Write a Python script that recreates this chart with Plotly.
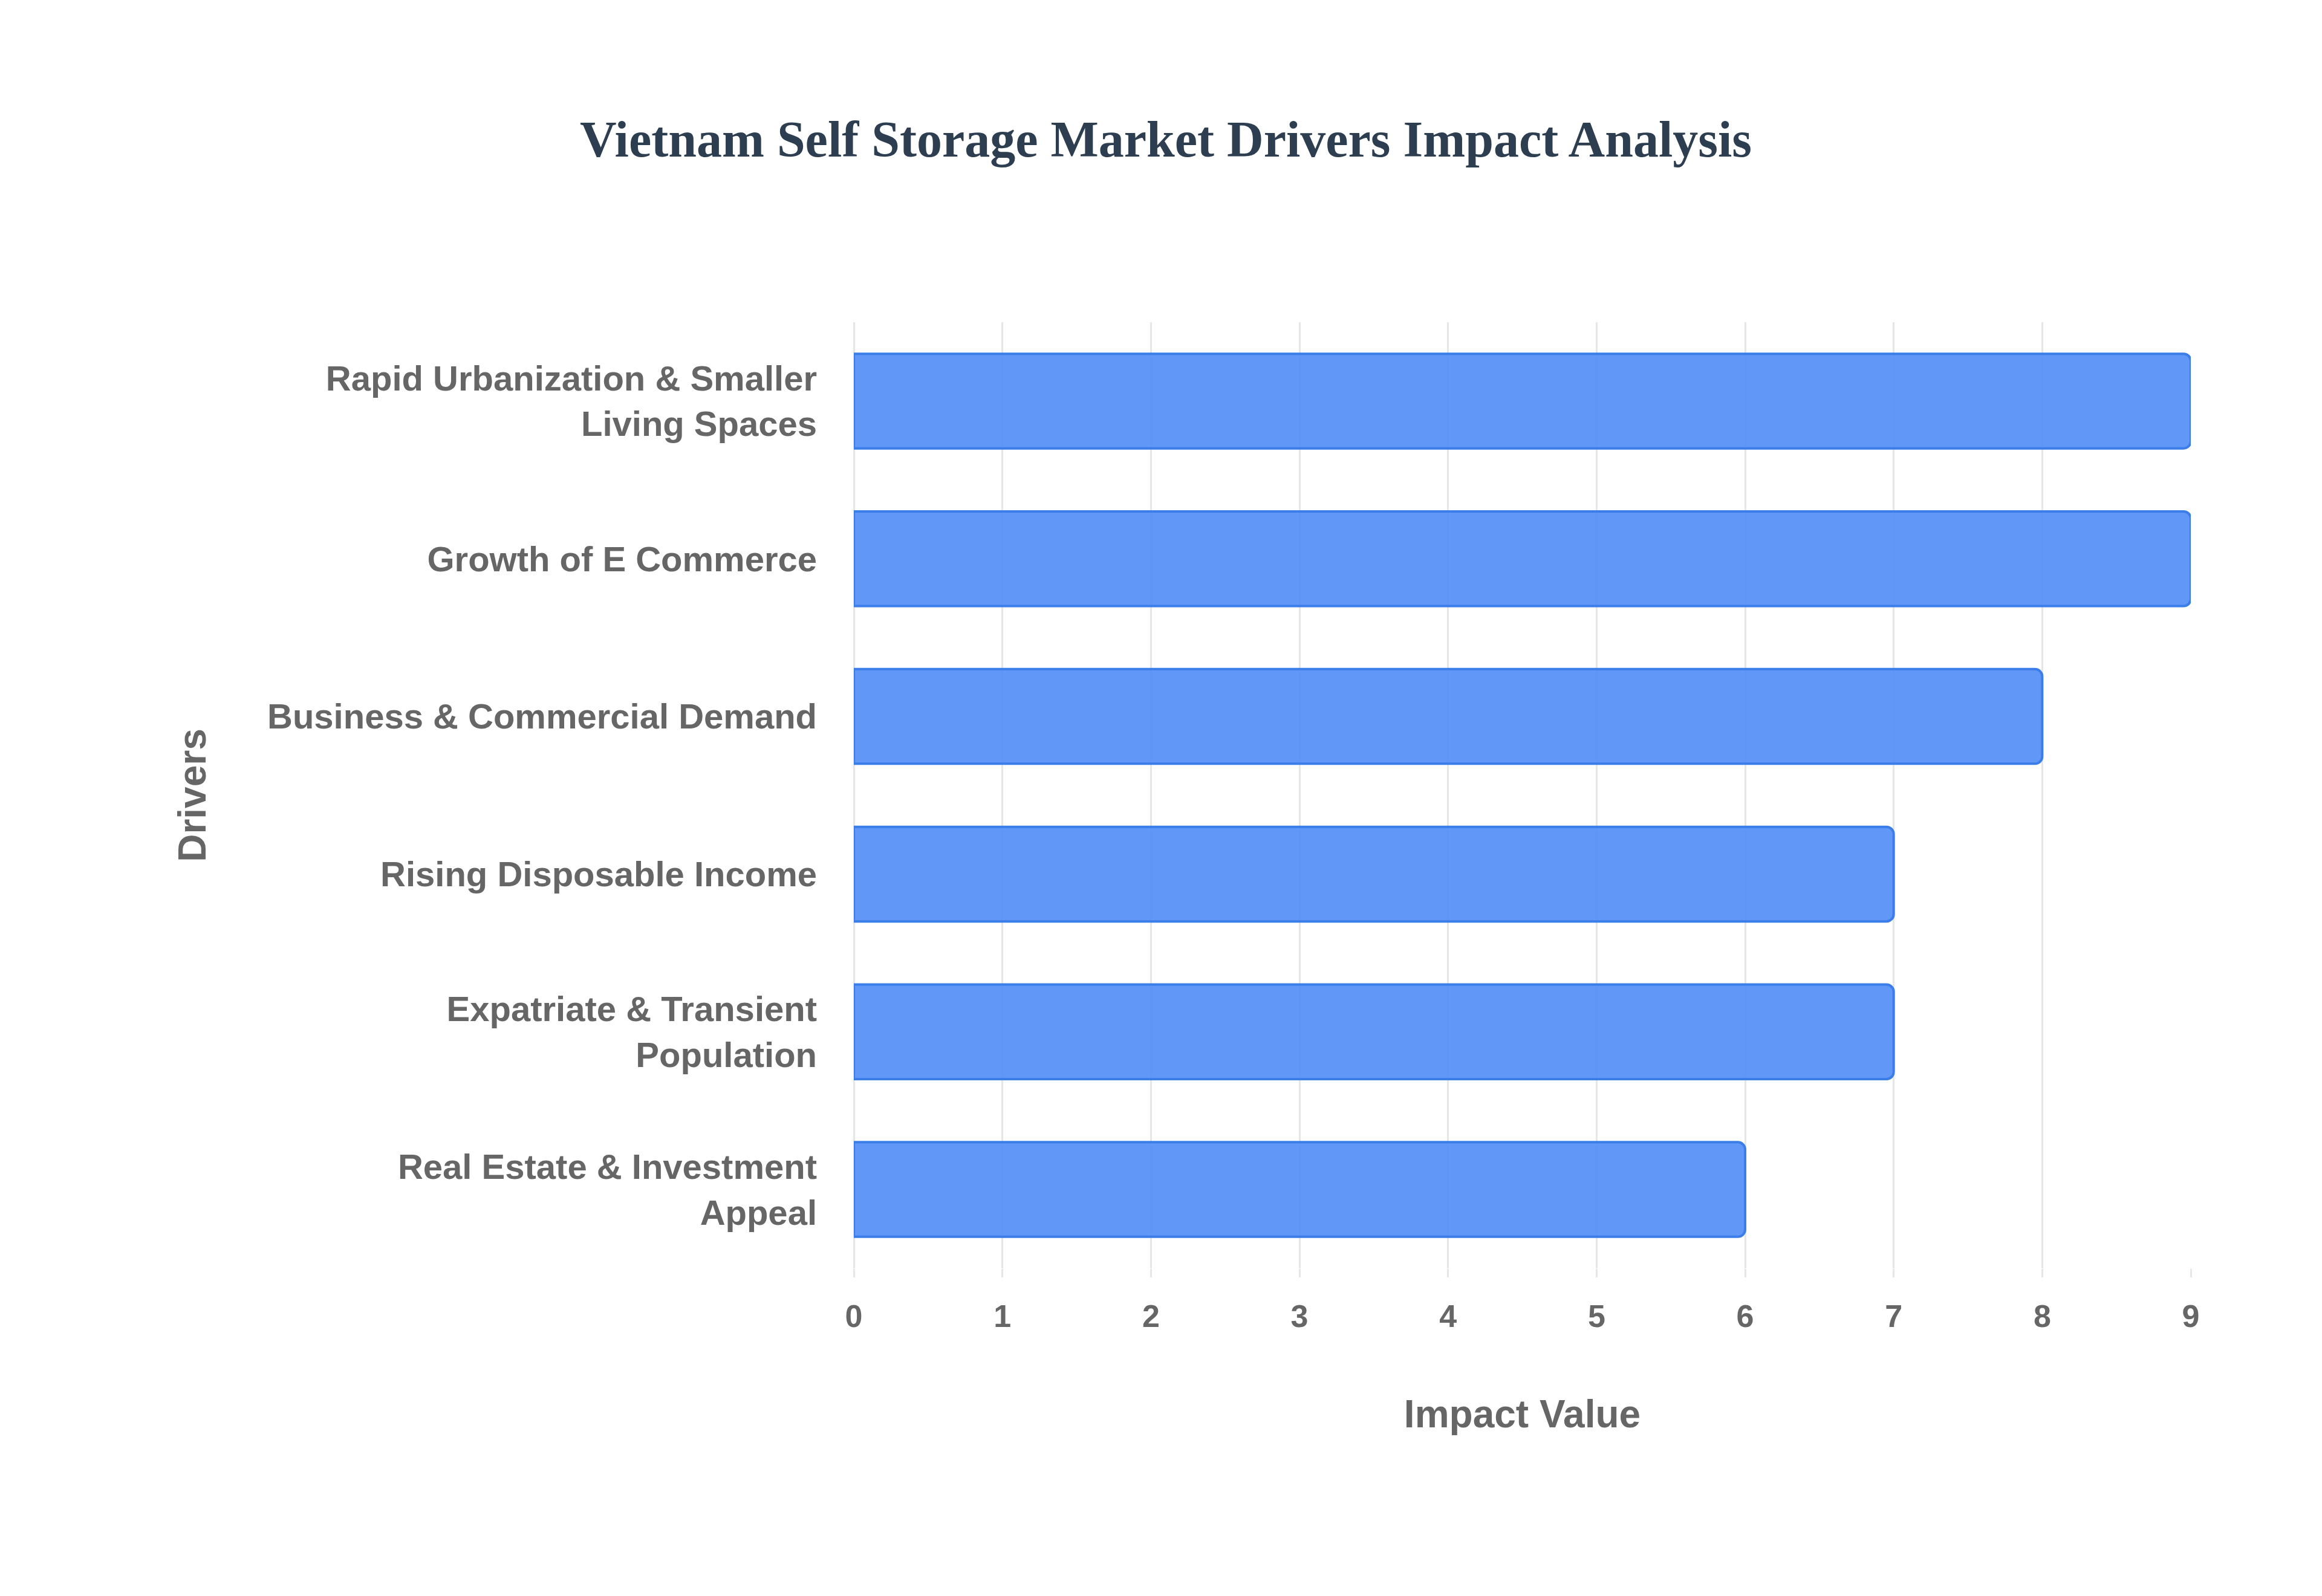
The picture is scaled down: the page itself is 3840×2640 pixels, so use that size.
import plotly.graph_objects as go

drivers = ["Rapid Urbanization & Smaller<br>Living Spaces", "Growth of E Commerce",
           "Business & Commercial Demand", "Rising Disposable Income",
           "Expatriate & Transient<br>Population", "Real Estate & Investment<br>Appeal"]
impact = [9, 9, 8, 7, 7, 6]

fig = go.Figure(go.Bar(
    x=impact, y=drivers, orientation="h", width=0.6,
    marker=dict(color="rgba(80,140,245,0.9)", line=dict(color="#3b7de9", width=4), cornerradius=12),
))
fig.update_layout(
    width=3840, height=2640,
    margin=dict(l=1404, r=225, t=525, b=550),
    paper_bgcolor="white", plot_bgcolor="white",
    title=dict(text="<b>Vietnam Self Storage Market Drivers Impact Analysis</b>",
               x=0.5, xanchor="center", y=0.916, yanchor="middle",
               font=dict(family="Liberation Serif", size=84, color="#2c3e50")),
    showlegend=False,
)
fig.update_xaxes(range=[0, 9], dtick=1, showgrid=True, gridcolor="#e6e6e6", gridwidth=3,
                 zeroline=True, zerolinecolor="#e6e6e6", zerolinewidth=3,
                 ticks="outside", ticklen=14, tickcolor="#e6e6e6", tickwidth=3,
                 ticklabelstandoff=20,
                 tickfont=dict(family="Liberation Sans", size=52, color="#666", weight="bold"),
                 title=dict(text="Impact Value", standoff=110,
                            font=dict(family="Liberation Sans", size=64, color="#666", weight="bold")))
fig.update_yaxes(autorange="reversed", showgrid=False, ticklabelstandoff=60,
                 tickfont=dict(family="Liberation Sans", size=58, color="#666", weight="bold"),
                 title=dict(text="Drivers", standoff=80,
                            font=dict(family="Liberation Sans", size=64, color="#666", weight="bold")))
fig.write_html("out.html")
